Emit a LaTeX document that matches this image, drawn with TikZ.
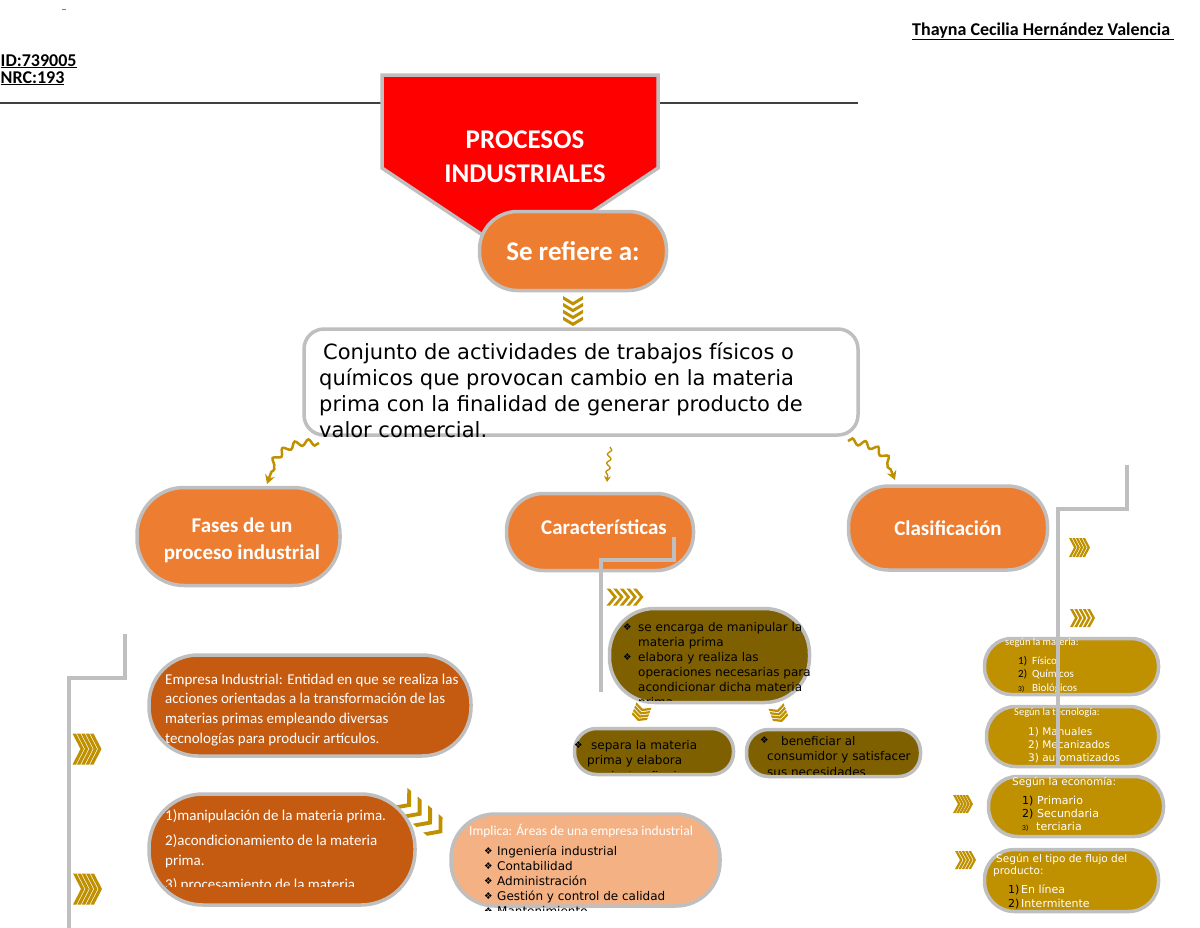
\documentclass[tikz,border=0pt]{standalone}
\usepackage{fontspec}
\setmainfont{Carlito}
\newfontfamily\dv{DejaVu Sans}
\usetikzlibrary{decorations.pathmorphing,arrows.meta}
\definecolor{lgray}{HTML}{BFBFBF}
\definecolor{orng}{HTML}{ED7D31}
\definecolor{gold}{HTML}{BF9000}
\definecolor{brwn}{HTML}{7F6000}
\definecolor{dorng}{HTML}{C55A11}
\definecolor{peach}{HTML}{F4B183}
\definecolor{hline}{HTML}{404040}
% cx, cy, angle, length, width, n, depth, thickness
\newcommand{\chevs}[8]{%
\begin{scope}[shift={(#1,#2)},rotate=#3]
\pgfmathsetmacro{\chsp}{(#4-#7-#8)/(#6-1)}
\foreach \k in {1,...,#6}{
 \fill[gold] ({-#4/2+(\k-1)*\chsp},{#5/2}) -- ++(#8,0) -- ++(#7,{-#5/2}) -- ++(-#7,{-#5/2}) -- ++(-#8,0) -- ++(#7,{#5/2}) -- cycle;
}
\end{scope}}
\newcommand{\fs}[2]{\fontsize{#1}{#2}\selectfont}
\begin{document}
\begin{tikzpicture}[x=1pt,y=-1pt,
 pill/.style={draw=lgray,line width=3.5pt,inner sep=0pt},
 conn/.style={draw=lgray,line width=3.5pt},
 tx/.style={anchor=base west,inner sep=0pt},
 wavy/.style={draw=gold,line width=2.5pt,decorate,decoration={snake,amplitude=3pt,segment length=13pt,post length=8pt}},
 bul/.style={tx,font=\dv\fs{9.5}{11}},
]
\useasboundingbox (0,0) rectangle (1200,927);

% header
\draw[gray,line width=0.6pt] (62,9) -- (66,9);
\node[tx,font=\bfseries\fs{18}{20}] (author) at (912,35) {\underline{Thayna Cecilia Hernández Valencia\ }};
\node[tx,font=\bfseries\fs{18}{18}] (idn) at (0.5,66) {\underline{ID:739005}};
\node[tx,font=\bfseries\fs{18}{18}] (nrc) at (0.5,83) {\underline{NRC:193}};
\coordinate (hl1) at (0,103); \coordinate (hl2) at (858,103);
\draw[hline,line width=1.6pt] (hl1) -- (hl2);

% title pentagon
\draw[draw=lgray,line width=3.5pt,fill=red,line join=miter] (382,75) -- (658,75) -- (658,168) -- (520,260) -- (382,168) -- cycle;
\node[align=center,text=white,font=\bfseries\fs{27}{34}] (title) at (525,157) {PROCESOS\\INDUSTRIALES};

\node[pill,fill=orng,minimum width=187pt,minimum height=79pt,rounded corners=38pt,text=white,font=\bfseries\fs{27}{30}] (se) at (573,251) {Se refiere a:};

\chevs{573}{311}{-90}{30}{20}{4}{6}{3.5}

% definition box
\node[draw=lgray,line width=3.5pt,fill=white,rounded corners=20pt,minimum width=554pt,minimum height=106pt] (conj) at (581,382) {};
\begin{scope}[every node/.style={tx,font=\dv\fs{21}{26}}]
\node (c1) at (323,359) {Conjunto de actividades de trabajos físicos o};
\node (c2) at (319,385) {químicos que provocan cambio en la materia};
\node (c3) at (319,411) {prima con la finalidad de generar producto de};
\node (c4) at (319,437) {valor comercial.};
\end{scope}

% wavy arrows
\coordinate (wa1) at (319,443); \coordinate (wa2) at (267,484);
\draw[wavy,-{Stealth[length=9pt,width=10pt]}] (wa1) .. controls (290,440) and (275,458) .. (wa2);
\coordinate (wb1) at (610,447); \coordinate (wb2) at (607,482);
\draw[wavy,line width=1.3pt,decoration={snake,amplitude=2pt,segment length=9pt,post length=6pt},-{Stealth[length=6pt,width=7pt]}] (wb1) -- (wb2);
\coordinate (wc1) at (848,441); \coordinate (wc2) at (895,480);
\draw[wavy,-{Stealth[length=9pt,width=10pt]}] (wc1) .. controls (875,444) and (886,456) .. (wc2);

% level 2 pills
\node[pill,fill=orng,minimum width=203pt,minimum height=98pt,rounded corners=47pt] (fases) at (238.5,536.5) {};
\node[align=center,text=white,font=\bfseries\fs{21}{27}] (fasest) at (242,540) {Fases de un\\proceso industrial};
\node[pill,fill=orng,minimum width=187pt,minimum height=77pt,rounded corners=37pt] (carac) at (600,532) {};
\node[text=white,font=\bfseries\fs{21}{24}] (caract) at (604,527) {Características};
\node[pill,fill=orng,minimum width=199pt,minimum height=84pt,rounded corners=40pt,text=white,font=\bfseries\fs{21}{24}] (clasif) at (948,528) {Clasificación};

% connector lines
\coordinate (ka) at (674,537); \coordinate (kb) at (674,560); \coordinate (kc) at (601,560); \coordinate (kd) at (601,692);
\draw[conn] (ka) -- (kb) -- (kc) -- (kd);
\coordinate (la) at (125,634); \coordinate (lb) at (125,678); \coordinate (lc) at (69,678); \coordinate (ld) at (69,930);
\draw[conn] (la) -- (lb) -- (lc) -- (ld);

\chevs{625}{597}{0}{37}{17}{5}{7}{3.5}
\chevs{87}{749}{0}{29}{31}{5}{8}{3.5}
\chevs{87.5}{889}{0}{29}{31}{5}{8}{3.5}
\chevs{1079.5}{547.5}{0}{21}{19}{5}{5}{2.5}
\chevs{1082.5}{618}{0}{25}{18}{5}{5}{2.8}
\chevs{963}{804}{0}{20}{18}{5}{5}{2.5}
\chevs{965.5}{860}{0}{21}{18}{5}{5}{2.5}
\chevs{421}{815}{-40}{56}{24}{4}{10}{5}
\chevs{641}{713}{-110}{17}{16}{4}{4}{2.5}
\chevs{779}{714}{-70}{17}{16}{4}{4}{2.5}

% caracteristicas details
\node[pill,fill=brwn,minimum width=200pt,minimum height=94pt,rounded corners=45pt] (b1) at (709.5,655.5) {};
\begin{scope}
\clip (600,600) rectangle (830,700);
\begin{scope}[every node/.style={tx,font=\dv\fs{12}{14}}]
\node[bul] (b1u1) at (623,630) {❖};
\node (b1a) at (638,631) {se encarga de manipular la};
\node (b1b) at (638,646) {materia prima};
\node[bul] (b1u2) at (623,660) {❖};
\node (b1c) at (638,661) {elabora y realiza las};
\node (b1d) at (638,676) {operaciones necesarias para};
\node (b1e) at (638,691) {acondicionar dicha materia};
\node (b1f) at (638,706) {prima};
\end{scope}
\end{scope}

\node[pill,fill=brwn,minimum width=159pt,minimum height=46pt,rounded corners=22pt] (b2) at (654,751.5) {};
\begin{scope}
\clip (560,720) rectangle (760,771);
\begin{scope}[every node/.style={tx,font=\dv\fs{12}{14}}]
\node[bul] (b2u) at (574,748) {❖};
\node (b2a) at (591,749) {separa la materia};
\node (b2b) at (587,764) {prima y elabora};
\node (b2c) at (587,780) {productos finales};
\end{scope}
\end{scope}

\node[pill,fill=brwn,minimum width=174pt,minimum height=47pt,rounded corners=22pt] (b3) at (833.5,753) {};
\begin{scope}
\clip (740,720) rectangle (930,774);
\begin{scope}[every node/.style={tx,font=\dv\fs{12}{14}}]
\node[bul] (b3u) at (760,743) {❖};
\node (b3a) at (781,745) {beneficiar al};
\node (b3b) at (767,760) {consumidor y satisfacer};
\node (b3c) at (767,776) {sus necesidades};
\end{scope}
\end{scope}

% fases details
\node[pill,fill=dorng,minimum width=322pt,minimum height=101pt,rounded corners=49pt] (emp) at (310,705.5) {};
\begin{scope}[every node/.style={tx,text=white,font=\fs{15}{18}}]
\node (e1) at (165,684) {Empresa Industrial: Entidad en que se realiza las};
\node (e2) at (165,703.5) {acciones orientadas a la transformación de las};
\node (e3) at (165,723) {materias primas empleando diversas};
\node (e4) at (165,743) {tecnologías para producir artículos.};
\end{scope}

\node[pill,fill=dorng,minimum width=266pt,minimum height=111pt,rounded corners=54pt] (man) at (282,849.5) {};
\begin{scope}
\clip (140,790) rectangle (430,886);
\begin{scope}[every node/.style={tx,text=white,font=\fs{15}{18}}]
\node (m1) at (165,820) {1)manipulación de la materia prima.};
\node (m2) at (165,845) {2)acondicionamiento de la materia};
\node (m3) at (165,865) {prima.};
\node (m4) at (165,889) {3) procesamiento de la materia};
\end{scope}
\end{scope}

\node[pill,fill=peach,minimum width=269pt,minimum height=92pt,rounded corners=44pt] (imp) at (585.5,860) {};
\node[tx,text=white,font=\fs{13.5}{15}] (imph) at (469,835) {Implica: Áreas de una empresa industrial};
\begin{scope}
\clip (440,815) rectangle (730,910);
\begin{scope}[every node/.style={tx,font=\dv\fs{12}{14}}]
\node[bul] (iu1) at (484,854) {❖}; \node (i1) at (497,855) {Ingeniería industrial};
\node[bul] (iu2) at (484,869) {❖}; \node (i2) at (497,870) {Contabilidad};
\node[bul] (iu3) at (484,884) {❖}; \node (i3) at (497,885) {Administración};
\node[bul] (iu4) at (484,899) {❖}; \node (i4) at (497,900) {Gestión y control de calidad};
\node[bul] (iu5) at (484,914) {❖}; \node (i5) at (497,915) {Mantenimiento};
\end{scope}
\end{scope}

% clasificacion details
\node[pill,fill=gold,minimum width=174pt,minimum height=56pt,rounded corners=27pt] (g1) at (1071.5,666.5) {};
\node[pill,fill=gold,minimum width=172pt,minimum height=60pt,rounded corners=29pt] (g2) at (1072.5,736.5) {};
\node[pill,fill=gold,minimum width=175pt,minimum height=60pt,rounded corners=29pt] (g3) at (1076,806.5) {};
\node[pill,fill=gold,minimum width=174pt,minimum height=62pt,rounded corners=30pt] (g4) at (1071.5,880.5) {};

\begin{scope}[every node/.style={tx,text=white}]
\node[font=\fs{10.5}{11}] (g1h) at (1005,645) {según la materia:};
\node[font=\fs{11}{11},text=black] (g1n1) at (1018,664) {1)};
\node[font=\fs{11}{11}] (g1a) at (1032,664) {Físico};
\node[font=\fs{11}{11},text=black] (g1n2) at (1018,677) {2)};
\node[font=\fs{11}{11}] (g1b) at (1032,677) {Químicos};
\node[font=\fs{7.5}{9},text=black] (g1n3) at (1018,691) {3)};
\node[font=\fs{11}{11}] (g1c) at (1032,691) {Biológicos};

\node[font=\fs{10.5}{11}] (g2h) at (1014,715) {Según la tecnología:};
\node[font=\dv\fs{10.5}{13}] (g2a) at (1028,735) {1) Manuales};
\node[font=\dv\fs{10.5}{13}] (g2b) at (1028,748) {2) Mecanizados};
\node[font=\dv\fs{10.5}{13}] (g2c) at (1028,761) {3) automatizados};

\node[font=\dv\fs{10.5}{13}] (g3h) at (1012,785) {Según la economía:};
\node[font=\dv\fs{11}{13},text=black] (g3n1) at (1022,804) {1)};
\node[font=\dv\fs{11}{13}] (g3a) at (1037,804) {Primario};
\node[font=\dv\fs{11}{13},text=black] (g3n2) at (1022,817) {2)};
\node[font=\dv\fs{11}{13}] (g3b) at (1037,817) {Secundaria};
\node[font=\fs{7.5}{9},text=black] (g3n3) at (1022,830) {3)};
\node[font=\dv\fs{11}{13}] (g3c) at (1036,830) {terciaria};

\node[font=\dv\fs{10.5}{13}] (g4h) at (996,862) {Según el tipo de flujo del};
\node[font=\dv\fs{10.5}{13}] (g4h2) at (993,874) {producto:};
\node[font=\dv\fs{11}{13},text=black] (g4n1) at (1008,893) {1)};
\node[font=\dv\fs{11}{13}] (g4a) at (1021,893) {En línea};
\node[font=\dv\fs{11}{13},text=black] (g4n2) at (1008,907) {2)};
\node[font=\dv\fs{11}{13}] (g4b) at (1021,907) {Intermitente};
\end{scope}

\coordinate (ra) at (1127,465); \coordinate (rb) at (1127,509); \coordinate (rc) at (1058,509); \coordinate (rd) at (1058,767);
\draw[conn] (ra) -- (rb) -- (rc) -- (rd);
\end{tikzpicture}
\end{document}
